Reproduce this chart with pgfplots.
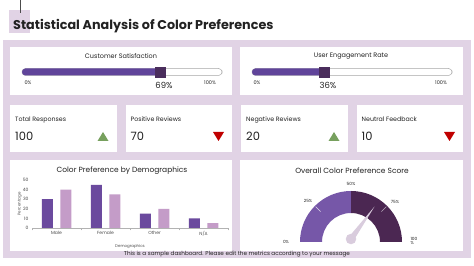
\documentclass[border=0pt]{standalone}
\usepackage{fontspec}
\setmainfont{Poppins}
\usepackage{pgfplots}
\pgfplotsset{compat=1.18}
\definecolor{panel}{HTML}{E1D3E5}
\definecolor{pfill}{HTML}{60449A}
\definecolor{pmark}{HTML}{4A2D5C}
\definecolor{bdark}{HTML}{6B4A9E}
\definecolor{blight}{HTML}{C49CC8}
\definecolor{gL}{HTML}{7657A8}
\definecolor{gR}{HTML}{4B2752}
\definecolor{needle}{HTML}{D9CCDD}
\definecolor{tgreen}{HTML}{77A05E}
\definecolor{tred}{HTML}{C00000}
\definecolor{txt}{HTML}{222222}
\newcommand{\fs}[1]{\fontsize{#1}{#1}\selectfont}
\begin{document}
\begin{tikzpicture}[every node/.style={text=txt}]
\useasboundingbox (0bp,0bp) rectangle (474bp,266bp);
\begin{scope}[x=1bp,y=1bp]
\fill[white] (0,0) rectangle (474,266);
% header
\fill[panel] (9,233) rectangle (30,256);
\draw[black!70, line width=0.6bp] (20.5,253) -- (20.5,266);
\node[anchor=base west, inner sep=0, font=\fs{12.8}\bfseries] at (13,237) {Statistical Analysis of Color Preferences};
% panel
\fill[panel] (3,8) rectangle (471,226);
% cards
\fill[white] (10,171) rectangle (232,219);
\fill[white] (240,171) rectangle (463,219);
\foreach \a/\b in {10/116.5, 125.5/232, 241/347.5, 356.5/463} \fill[white] (\a,114) rectangle (\b,161);
\fill[white] (10,15) rectangle (232,106);
\fill[white] (240,15) rectangle (463,106);
% progress titles/labels
\node[font=\fs{6.5}] at (121,210) {Customer Satisfaction};
\node[font=\fs{5}] at (28,183) {0\%};
\node[font=\fs{5}] at (210,183) {100\%};
\node[font=\fs{8.5}] at (164,181) {69\%};
\node[font=\fs{6.5}] at (351,210) {User Engagement Rate};
\node[font=\fs{5}] at (257,183) {0\%};
\node[font=\fs{5}] at (441,183) {100\%};
\node[font=\fs{8.5}] at (328,181) {36\%};
% KPIs
\foreach \a/\b/\t/\v/\up in {10/116.5/Total Responses/100/1, 125.5/232/Positive Reviews/70/0, 241/347.5/Negative Reviews/20/1, 356.5/463/Neutral Feedback/10/0}{
  \node[anchor=base west, inner sep=0, font=\fs{6.3}] at (\a+5,145) {\t};
  \node[anchor=base west, inner sep=0, font=\fs{11.5}] at (\a+5,126) {\v};
  \ifnum\up=1
    \fill[tgreen] (\b-19,125) -- (\b-8,125) -- (\b-13.5,134) -- cycle;
  \else
    \fill[tred] (\b-19,134) -- (\b-8,134) -- (\b-13.5,125) -- cycle;
  \fi
}
% chart titles
\node[font=\fs{7.5}] at (122,95) {Color Preference by Demographics};
\node[font=\fs{7.5}] at (352,95) {Overall Color Preference Score};
% gauge
\fill[gL] (300,24) arc[start angle=180,end angle=90,radius=51] -- (351,53) arc[start angle=90,end angle=180,radius=29] -- cycle;
\fill[gR] (351,75) arc[start angle=90,end angle=0,radius=51] -- (380,24) arc[start angle=0,end angle=90,radius=29] -- cycle;
\draw[white!75!gL, line width=0.6bp] (351,24) ++(135:43) -- ++(135:7);
\draw[white!60!gR, line width=0.6bp] (351,24) ++(45:43) -- ++(45:7);
\node[font=\fs{4.3}] at (286,24) {0\%};
\node[font=\fs{4.3}] at (308,65) {25\%};
\node[font=\fs{4.3}] at (351,82) {50\%};
\node[font=\fs{4.3}] at (395,64) {75\%};
\node[font=\fs{4.3}, align=left] at (414,25) {100\\\%};
% footer
\node[font=\fs{5.7}] at (237,11.5) {This is a sample dashboard. Please edit the metrics according to your message};
\end{scope}

% ---- progress 1
\begin{axis}[at={(22bp,194bp)}, anchor=west, scale only axis, width=200bp, height=12bp,
  xmin=0, xmax=100, ymin=-1, ymax=1, hide axis, clip=false]
  \draw[fill=white, draw=gray!70, line width=0.5bp, rounded corners=3.5bp] (axis cs:0,-0.5833) rectangle (axis cs:100,0.5833);
  \addplot[xbar, bar width=7bp, fill=pfill, draw=none, rounded corners=3.4bp] coordinates {(69,0)};
  \addplot[only marks, mark=square*, mark size=5bp, mark options={fill=pmark, draw=pmark}] coordinates {(69,0)};
\end{axis}

% ---- progress 2
\begin{axis}[at={(252bp,194bp)}, anchor=west, scale only axis, width=200bp, height=12bp,
  xmin=0, xmax=100, ymin=-1, ymax=1, hide axis, clip=false]
  \draw[fill=white, draw=gray!70, line width=0.5bp, rounded corners=3.5bp] (axis cs:0,-0.5833) rectangle (axis cs:100,0.5833);
  \addplot[xbar, bar width=7bp, fill=pfill, draw=none, rounded corners=3.4bp] coordinates {(36,0)};
  \addplot[only marks, mark=square*, mark size=5bp, mark options={fill=pmark, draw=pmark}] coordinates {(36,0)};
\end{axis}

% ---- bar chart
\begin{axis}[at={(32bp,38bp)}, anchor=south west, scale only axis, width=196bp, height=48bp,
  ybar=7.5bp, bar width=11bp, xmin=-0.5, xmax=3.5, ymin=0, ymax=50,
  ytick={0,10,...,50}, xtick={0,1,2,3}, xticklabels={Male,Female,Other,N/A},
  minor xtick={-0.5,0.5,1.5,2.5,3.5},
  axis lines*=left, y axis line style={draw=none}, x axis line style={draw=gray!60, line width=0.5bp},
  major tick length=0pt, minor tick length=2.5bp, tick align=outside,
  minor x tick style={gray!60, line width=0.4bp},
  ticklabel style={font=\fs{4.5}, text=black!70},
  /pgf/number format/assume math mode=true,
  ylabel={Percentage}, xlabel={Demographics},
  label style={font=\fs{4}, text=black!70},
  ylabel style={at={(axis description cs:-0.035,0.5)}},
  xlabel style={at={(axis description cs:0.5,-0.26)}},
  ]
  \addplot[fill=bdark, draw=none] coordinates {(0,30) (1,45) (2,15) (3,10)};
  \addplot[fill=blight, draw=none] coordinates {(0,40) (1,35) (2,20) (3,5)};
\end{axis}

% ---- gauge needle
\begin{axis}[at={(291bp,19bp)}, anchor=south west, scale only axis, width=120bp, height=65bp,
  xmin=-60, xmax=60, ymin=-5, ymax=60, hide axis, clip=false]
  \addplot[color=needle, fill=needle, draw=none] coordinates {(-2.43,4.76) (23.5,35.4) (2.43,1.24)};
  \addplot[color=needle, only marks, mark=*, mark size=5bp, mark options={fill=needle, draw=needle}] coordinates {(0,3)};
\end{axis}
\end{tikzpicture}
\end{document}
